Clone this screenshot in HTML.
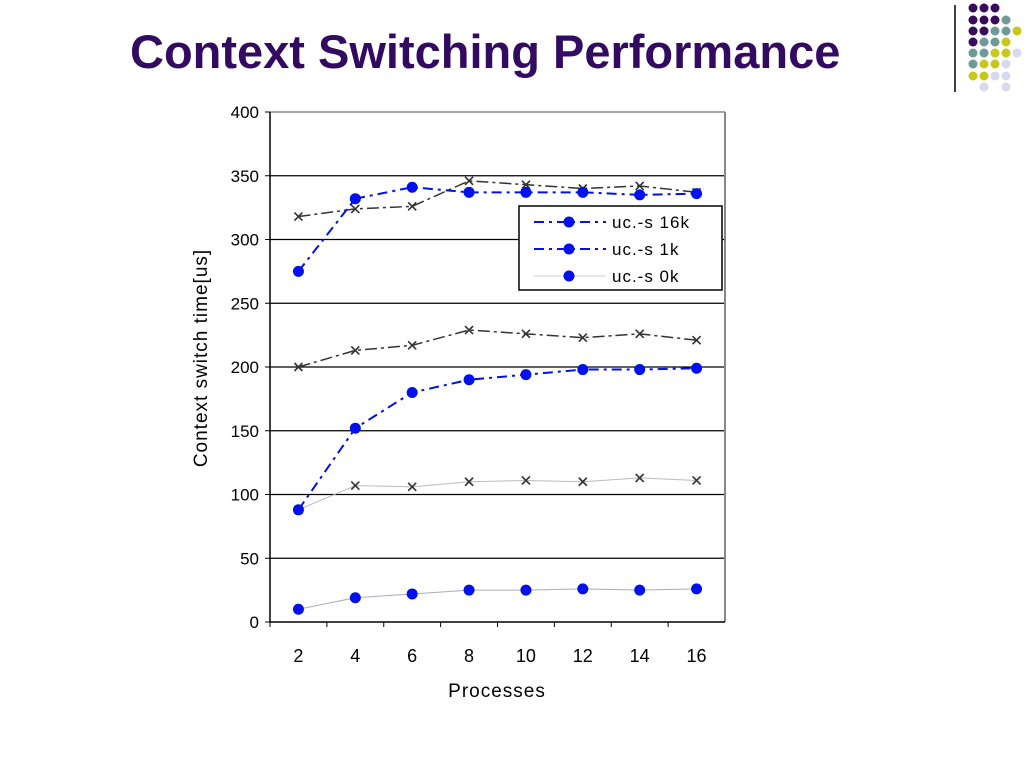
<!DOCTYPE html>
<html><head><meta charset="utf-8"><style>
body{margin:0;width:1024px;height:768px;background:#fff;overflow:hidden;font-family:"Liberation Sans","Noto Sans CJK KR",sans-serif;}
#title{position:absolute;left:130px;top:24px;font-size:47px;font-weight:bold;color:#330a62;margin:0;}
svg{position:absolute;left:0;top:0;}
</style></head><body>
<h1 id="title">Context Switching Performance</h1>
<svg id="deco" width="1024" height="768"></svg>
<svg id="chart" width="1024" height="768"></svg>
<script>
const categories=[2,4,6,8,10,12,14,16];
const yTicks=[0,50,100,150,200,250,300,350,400];
const s16k=[275,332,341,337,337,337,335,336];
const s16kX=[318,324,326,346,343,340,342,337];
const s1k=[88,152,180,190,194,198,198,199];
const s1kX=[200,213,217,229,226,223,226,221];
const s0k=[10,19,22,25,25,26,25,26];
const s0kX=[88,107,106,110,111,110,113,111];
const legendLabels=["uc.-s 16k","uc.-s 1k","uc.-s 0k"];

const NS="http://www.w3.org/2000/svg";
function mk(p,t,a){const e=document.createElementNS(NS,t);for(const k in a)e.setAttribute(k,a[k]);p.appendChild(e);return e;}
const deco=document.getElementById('deco');
const P='#3a0a5e',T='#6e9a98',Y='#c8c81a',L='#d8d8ee';
const rows=[[P,P,P],[P,P,P,T],[P,P,T,T,Y],[P,T,T,Y],[T,T,Y,Y,L],[T,Y,Y,L],[Y,Y,L,L],[null,L,null,L]];
const colX=[973,984,995,1006,1017],rowY=[8,20,31,42,53,64,76,87];
const dl=mk(deco,'line',{x1:955,y1:5,x2:955,y2:92,stroke:'#000','stroke-width':1.5});


rows.forEach((r,i)=>r.forEach((c,j)=>{if(!c)return;const d=mk(deco,'circle',{cx:colX[j],cy:rowY[i],r:4.5,fill:c});

}));

const svg=document.getElementById('chart');
const X0=270,X1=725,Y0=622,Y1=112;
const bw=(X1-X0)/categories.length;
const xs=i=>X0+bw*(i+0.5);
const ys=v=>Y0-(v/400)*(Y0-Y1);
yTicks.forEach(t=>{
 if(t>0&&t<400){const g=mk(svg,'line',{x1:X0,x2:X1,y1:ys(t),y2:ys(t),stroke:'#000','stroke-width':1.3});
 
 }
 const tk=mk(svg,'line',{x1:X0-5,x2:X0,y1:ys(t),y2:ys(t),stroke:'#000'});
 
 
 const tx=mk(svg,'text',{x:X0-11,y:ys(t)+6,'text-anchor':'end','font-size':17,fill:'#000'});tx.textContent=t;
 
 
});
const topBorder=mk(svg,'line',{x1:X0,x2:X1,y1:Y1,y2:Y1,stroke:'#888','stroke-width':1.5});


const rb=mk(svg,'line',{x1:X1,x2:X1,y1:Y1,y2:Y0,stroke:'#888','stroke-width':2});


const ya=mk(svg,'line',{x1:X0,x2:X0,y1:Y1,y2:Y0,stroke:'#000','stroke-width':1.5});


const xa=mk(svg,'line',{x1:X0,x2:X1,y1:Y0,y2:Y0,stroke:'#000','stroke-width':1.5});


categories.forEach((c,i)=>{
 const tk=mk(svg,'line',{x1:X0+bw*i,x2:X0+bw*i,y1:Y0,y2:Y0+5,stroke:'#000'});
 
 
 const tx=mk(svg,'text',{x:xs(i),y:Y0+40,'text-anchor':'middle','font-size':18,fill:'#000'});tx.textContent=c;
 
 
});
const xt=mk(svg,'text',{x:497,y:697,'text-anchor':'middle','font-size':19,fill:'#000','letter-spacing':1});xt.textContent='Processes';


const yt=mk(svg,'text',{x:0,y:0,'text-anchor':'middle','font-size':19,fill:'#000','letter-spacing':1,transform:'translate(207,358) rotate(-90)'});yt.textContent='Context switch time[us]';



function series(vals,color,dash,width,marker,name){
 const pl=mk(svg,'polyline',{points:vals.map((v,i)=>xs(i)+','+ys(v)).join(' '),fill:'none',stroke:color,'stroke-width':width,'stroke-dasharray':dash});
 
 
 vals.forEach((v,i)=>{
  let m;
  if(marker==='o'){m=mk(svg,'circle',{cx:xs(i),cy:ys(v),r:5.5,fill:'#0010ee'});}
  else{const x=xs(i),y=ys(v);m=mk(svg,'path',{d:`M${x-4},${y-4}L${x+4},${y+4}M${x-4},${y+4}L${x+4},${y-4}`,stroke:'#333','stroke-width':1.6});}
  
  
 });
}
series(s16kX,'#333','12,4,3,4',1.5,'x','series-16k-x');
series(s1kX,'#333','12,4,3,4',1.5,'x','series-1k-x');
series(s0kX,'#bbb','none',1,'x','series-0k-x');
series(s16k,'#0010ee','10,5,3,5',2,'o','series-16k');
series(s1k,'#0010ee','10,5,3,5',2,'o','series-1k');
series(s0k,'#aab','none',1,'o','series-0k');
const lg=mk(svg,'rect',{x:519,y:206,width:203,height:84,fill:'#fff',stroke:'#000','stroke-width':1.5});


const styles=[['#0010ee','10,5,3,5',2],['#0010ee','10,5,3,5',2],['#ccd','none',1]];
legendLabels.forEach((l,i)=>{
 const y=222+i*27;
 const ln=mk(svg,'line',{x1:534,x2:606,y1:y,y2:y,stroke:styles[i][0],'stroke-dasharray':styles[i][1],'stroke-width':styles[i][2]});
 
 
 const c=mk(svg,'circle',{cx:569,cy:y,r:5.5,fill:'#0010ee'});
 
 
 const t=mk(svg,'text',{x:612,y:y+6,'font-size':17,fill:'#000','letter-spacing':1});t.textContent=l;
 
 
});
</script>
</body></html>
